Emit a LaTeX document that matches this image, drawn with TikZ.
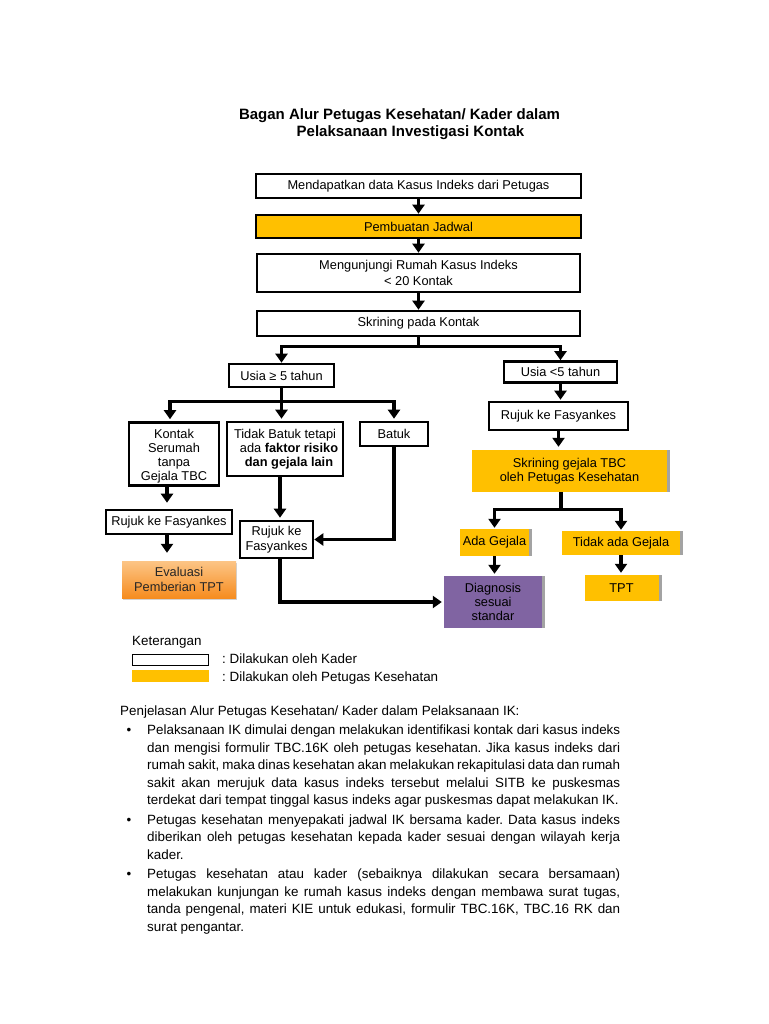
\documentclass[tikz,border=0pt]{standalone}
\usepackage{fontspec}
\setmainfont{Liberation Sans}
\usetikzlibrary{arrows.meta,shadows}
\definecolor{yel}{HTML}{FFC000}
\definecolor{pur}{HTML}{8064A2}
\definecolor{shd}{HTML}{A3A3A3}
\definecolor{orT}{HTML}{FCC586}
\definecolor{orB}{HTML}{F68C1F}
\newcommand{\bulitem}{\noindent\hangindent=27pt\hangafter=0\llap{\textbullet\hspace{16pt}}}
\frenchspacing
\begin{document}
\begin{tikzpicture}[x=1pt,y=-1pt,
  bx/.style={draw=black,line width=2.6pt,fill=white,align=center,inner sep=0pt,font=\fontsize{12.8}{14.5}\selectfont},
  yb/.style={fill=yel,align=center,inner sep=0pt,font=\fontsize{12.8}{14.5}\selectfont,drop shadow={fill=shd,opacity=1,shadow xshift=3pt,shadow yshift=0pt}},
  arr/.style={line width=3.2pt,-{Triangle[width=12pt,length=9pt]}},
  txt/.style={inner sep=0pt,font=\fontsize{13.4}{17.5}\selectfont}]
\useasboundingbox (0,0) rectangle (768,1024);
\fill[white] (0,0) rectangle (768,1024);

% title
\node[anchor=base,inner sep=0pt,font=\fontsize{15}{18}\selectfont\bfseries] (t1) at (399.5,120) {Bagan Alur Petugas Kesehatan/ Kader dalam};
\node[anchor=base,inner sep=0pt,font=\fontsize{15}{18}\selectfont\bfseries] (t2) at (410.5,136.5) {Pelaksanaan Investigasi Kontak};

% main column
\node[bx,minimum width=325pt,minimum height=24pt] (b1) at (418.5,186) {Mendapatkan data Kasus Indeks dari Petugas};
\node[bx,fill=yel,minimum width=325pt,minimum height=23pt] (b2) at (418.5,226.5) {Pembuatan Jadwal};
\node[bx,minimum width=323pt,minimum height=38pt] (b3) at (418.5,273) {Mengunjungi Rumah Kasus Indeks\\[1pt]{<} 20 Kontak};
\node[bx,minimum width=323pt,minimum height=25pt] (b4) at (418.5,323.5) {Skrining pada Kontak};

% left branch
\node[bx,minimum width=105pt,minimum height=23pt] (u5) at (281.5,375.5) {Usia ≥ 5 tahun};
\node[bx,minimum width=90pt,minimum height=63pt,font=\fontsize{12.8}{14}\selectfont] (ks) at (174,454) {\rule{0pt}{13pt}Kontak\\Serumah\\tanpa\\Gejala TBC};
\node[bx,minimum width=116pt,minimum height=54pt,font=\fontsize{12.8}{14}\selectfont] (tb) at (285,449) {Tidak Batuk tetapi\\\hspace*{8pt}ada \textbf{faktor risiko}\\\hspace*{8pt}\textbf{dan gejala lain}};
\node[bx,minimum width=68pt,minimum height=24pt] (bt) at (394,434) {Batuk};
\node[bx,minimum width=126pt,minimum height=24pt] (rl) at (169,522) {Rujuk ke Fasyankes};
\node[inner sep=0pt,minimum width=114pt,minimum height=37pt,align=center,
  top color=orT,bottom color=orB,text=black!85,font=\fontsize{12.8}{14.5}\selectfont,
  drop shadow={opacity=0.35,shadow xshift=1pt,shadow yshift=-2pt}] (ev) at (179,579.5) {Evaluasi\\Pemberian TPT};
\node[bx,minimum width=73pt,minimum height=37pt] (rm) at (276.5,539.5) {Rujuk ke\\Fasyankes};
\node[fill=pur,inner sep=0pt,minimum width=98pt,minimum height=52pt,align=center,
  font=\fontsize{12.8}{14}\selectfont,drop shadow={fill=shd,opacity=1,shadow xshift=3pt,shadow yshift=0pt}] (dg) at (493,602) {Diagnosis\\sesuai\\standar};

% right branch
\node[bx,minimum width=113pt,minimum height=21pt] (u4) at (560.5,372) {Usia {<}5 tahun};
\node[bx,minimum width=139pt,minimum height=28pt] (rr) at (558.5,416) {Rujuk ke Fasyankes};
\node[yb,minimum width=195pt,minimum height=42pt,font=\fontsize{12.8}{14}\selectfont] (sk) at (569.5,471) {Skrining gejala TBC\\oleh Petugas Kesehatan};
\node[yb,minimum width=69pt,minimum height=27pt] (ag) at (494.5,542.5) {Ada Gejala};
\node[yb,minimum width=118pt,minimum height=24pt] (ta) at (621,543) {Tidak ada Gejala};
\node[yb,minimum width=74pt,minimum height=26pt] (tp) at (621.5,588) {TPT};

% connectors
\draw[arr] (b1) -- (b2);
\draw[arr] (b2) -- (b3);
\draw[arr] (b3) -- (b4);
\draw[arr] (b4.south) -- ++(0,9) -| (u5.north);
\draw[arr] (b4.south) -- ++(0,9) -| (u4.north);
\draw[arr,shorten >=2pt] (u5.south) -- ++(0,13) -| ([xshift=-4pt]ks.north);
\draw[arr,shorten >=2pt] (u5.south) -- (u5.south |- tb.north);
\draw[arr,shorten >=2pt] (u5.south) -- ++(0,13) -| (bt.north);
\draw[arr,shorten >=6pt] ([xshift=-7pt]ks.south) -- ([xshift=-2pt]rl.north);
\draw[arr,shorten >=8pt] ([xshift=-2pt]rl.south) -- ([xshift=-12pt]ev.north);
\draw[arr,shorten >=2pt] ([xshift=-5pt]tb.south) -- ([xshift=3.5pt]rm.north);
\draw[arr] (bt.south) |- (rm.east);
\draw[arr,shorten >=2pt] ([xshift=3.5pt]rm.south) |- (dg.west);
\draw[arr,shorten >=1pt] (u4.south) -- (u4.south |- rr.north);
\draw[arr,shorten >=3pt] (rr.south) -- (rr.south |- sk.north);
\draw[arr,shorten >=1pt] ([xshift=-8.5pt]sk.south) -- ++(0,17) -| (ag.north);
\draw[arr,shorten >=1pt] ([xshift=-8.5pt]sk.south) -- ++(0,17) -| (ta.north);
\draw[arr,shorten >=2pt] (ag.south) -- (ag.south |- dg.north);
\draw[arr,shorten >=2pt] (ta.south) -- (ta.south |- tp.north);

% legend
\node[txt,anchor=base west] (ket) at (132,645) {Keterangan};
\node[draw=black,line width=1.2pt,fill=white,minimum width=76pt,minimum height=11pt,inner sep=0pt] (k1) at (170.5,660) {};
\node[fill=yel,minimum width=77pt,minimum height=12pt,inner sep=0pt] (k2) at (170.5,676) {};
\node[txt,anchor=base west] (l1) at (222,663) {: Dilakukan oleh Kader};
\node[txt,anchor=base west] (l2) at (222,681) {: Dilakukan oleh Petugas Kesehatan};

% explanation
\node[txt,anchor=base west,text width=500pt,align=justify] (par) at (120,715) {%
\setlength{\parskip}{2pt}\hbadness=10000 \hfuzz=20pt \hyphenpenalty=10000 \exhyphenpenalty=10000 \frenchspacing
\noindent Penjelasan Alur Petugas Kesehatan/ Kader dalam Pelaksanaan IK:\par
\bulitem Pelaksanaan IK dimulai dengan melakukan identifikasi kontak dari kasus indeks\linebreak
dan mengisi formulir TBC.16K oleh petugas kesehatan. Jika kasus indeks dari\linebreak
rumah sakit, maka dinas kesehatan akan melakukan rekapitulasi data dan rumah\linebreak
sakit akan merujuk data kasus indeks tersebut melalui SITB ke puskesmas\linebreak
terdekat dari tempat tinggal kasus indeks agar puskesmas dapat melakukan IK.\par
\bulitem Petugas kesehatan menyepakati jadwal IK bersama kader. Data kasus indeks\linebreak
diberikan oleh petugas kesehatan kepada kader sesuai dengan wilayah kerja\linebreak
kader.\par
\bulitem Petugas kesehatan atau kader (sebaiknya dilakukan secara bersamaan)\linebreak
melakukan kunjungan ke rumah kasus indeks dengan membawa surat tugas,\linebreak
tanda pengenal, materi KIE untuk edukasi, formulir TBC.16K, TBC.16 RK dan\linebreak
surat pengantar.\par};
\end{tikzpicture}
\end{document}
